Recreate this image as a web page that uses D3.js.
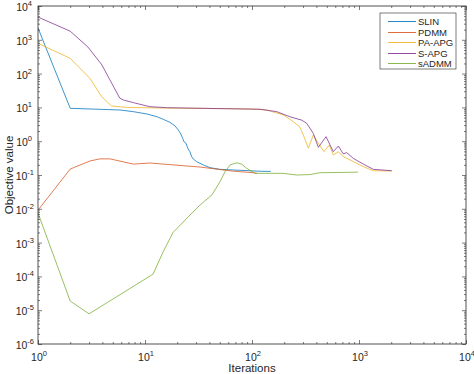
<!DOCTYPE html>
<html>
<head>
<meta charset="utf-8">
<script src="https://cdn.jsdelivr.net/npm/d3@7"></script>
<style>
  body { margin: 0; background: #fff; }
  text { font-family: "Liberation Sans", Arial, Helvetica, sans-serif; fill: #262626; }
</style>
</head>
<body>
<svg id="chart" width="474" height="374"></svg>
<script>
// iterations / objective values
const slinIter = [1, 2, 3.8, 5.84, 7.78, 10.4, 12.9, 14.8, 17.1, 19.1, 20.5, 21.6, 22.5, 23.1, 24.2, 24.9, 25.6, 26.3, 27.3, 28.3, 30.4, 35.1, 40.5, 50.2, 66.8, 119, 150];
const slinVal = [2240, 9.4, 8.77, 8.38, 7.48, 6.38, 5.32, 4.44, 3.61, 2.82, 2.14, 1.63, 1.22, 0.97, 0.865, 0.66, 0.55, 0.49, 0.348, 0.297, 0.248, 0.198, 0.165, 0.147, 0.141, 0.129, 0.128];

const pdmmIter = [1, 2, 3.06, 3.8, 4.7, 7.8, 11.1, 32.7, 66, 100, 111];
const pdmmVal = [0.0091, 0.15, 0.26, 0.3, 0.3, 0.21, 0.226, 0.172, 0.13, 0.118, 0.112];

const paapgIter = [1, 2, 3.06, 3.94, 4.88, 6.74, 13.8, 100, 137, 196, 243, 281, 306, 336, 374, 417, 471, 528, 575, 641, 713, 885, 1097, 1361, 2023];
const paapgVal = [787, 283, 72, 20.7, 11, 10, 9.6, 9.0, 8.4, 6.0, 3.8, 2.6, 1.36, 0.62, 1.52, 0.86, 0.49, 0.77, 0.39, 0.49, 0.35, 0.25, 0.176, 0.134, 0.131];

const sapgIter = [1, 2, 2.93, 3.96, 4.7, 5.8, 6.27, 7.8, 11.1, 15.9, 119, 170, 226, 291, 324, 374, 417, 492, 575, 641, 713, 767, 885, 1097, 1361, 2023];
const sapgVal = [4700, 1800, 610, 180, 65, 19, 16.6, 13.8, 10.5, 9.8, 8.8, 7.5, 5.3, 4.2, 3.4, 1.7, 0.66, 1.36, 0.49, 0.72, 0.42, 0.46, 0.31, 0.21, 0.147, 0.134];

const sadmmIter = [1, 2, 3, 11.9, 14.8, 18.3, 26.4, 32.7, 42.3, 50.2, 56, 62.3, 72, 80, 89, 107, 194, 262, 348, 432, 823, 980];
const sadmmVal = [0.0075, 1.86e-5, 7.8e-6, 1.17e-4, 5.4e-4, 0.002, 0.0066, 0.0129, 0.026, 0.063, 0.126, 0.198, 0.23, 0.21, 0.158, 0.112, 0.112, 0.1, 0.103, 0.117, 0.12, 0.122];

const seriesNames = ["SLIN", "PDMM", "PA-APG", "S-APG", "sADMM"];
const seriesColors = ["#0072BD", "#D95319", "#EDB120", "#7E2F8E", "#77AC30"];
const xTickExp = [0, 1, 2, 3, 4];
const yTickExp = [-6, -5, -4, -3, -2, -1, 0, 1, 2, 3, 4];

const series = [
  [slinIter, slinVal],
  [pdmmIter, pdmmVal],
  [paapgIter, paapgVal],
  [sapgIter, sapgVal],
  [sadmmIter, sadmmVal],
].map(([it, v], i) => ({
  name: seriesNames[i],
  color: seriesColors[i],
  points: it.map((d, j) => ({ x: d, y: v[j] })),
}));

const plot = { left: 38, right: 466, top: 6, bottom: 344 };
const svg = d3.select("#chart");

const x = d3.scaleLog().domain([1, 1e4]).range([plot.left, plot.right]);
const y = d3.scaleLog().domain([1e-6, 1e4]).range([plot.bottom, plot.top]);

svg.append("clipPath").attr("id", "clip")
  .append("rect")
  .attr("x", plot.left).attr("y", plot.top)
  .attr("width", plot.right - plot.left).attr("height", plot.bottom - plot.top);

// lines
const line = d3.line().x((d) => x(d.x)).y((d) => y(d.y));
svg.append("g").attr("clip-path", "url(#clip)")
  .selectAll("path.series")
  .data(series)
  .join("path")
  .attr("class", "series")
  .attr("d", (d) => line(d.points))
  .attr("fill", "none")
  .attr("stroke", (d) => d.color)
  .attr("stroke-width", 0.9)
  .attr("stroke-opacity", 0.85)
  .attr("stroke-linejoin", "round");

// ticks on all four sides, pointing inward
const xMajor = xTickExp.map((e) => Math.pow(10, e));
const yMajor = yTickExp.map((e) => Math.pow(10, e));
const xMinor = x.ticks(40).filter((v) => !xMajor.some((m) => Math.abs(m - v) < 1e-9 * m));
const yMinor = y.ticks(40).filter((v) => !yMajor.some((m) => Math.abs(m - v) < 1e-9 * m));

function tickAxis(axisFn, scale, values, size, pos) {
  const g = svg.append("g")
    .attr("transform", pos)
    .call(axisFn(scale).tickValues(values).tickSize(size).tickFormat(""));
  g.select(".domain").remove();
  g.selectAll(".tick line").attr("stroke", "#262626").attr("stroke-width", 0.6);
  return g;
}
tickAxis(d3.axisBottom, x, xMajor, -4, `translate(0,${plot.bottom})`);
tickAxis(d3.axisBottom, x, xMinor, -2, `translate(0,${plot.bottom})`);
tickAxis(d3.axisTop, x, xMajor, -4, `translate(0,${plot.top})`);
tickAxis(d3.axisTop, x, xMinor, -2, `translate(0,${plot.top})`);
tickAxis(d3.axisLeft, y, yMajor, -4, `translate(${plot.left},0)`);
tickAxis(d3.axisLeft, y, yMinor, -2, `translate(${plot.left},0)`);
tickAxis(d3.axisRight, y, yMajor, -4, `translate(${plot.right},0)`);
tickAxis(d3.axisRight, y, yMinor, -2, `translate(${plot.right},0)`);

svg.append("rect")
  .attr("x", plot.left).attr("y", plot.top)
  .attr("width", plot.right - plot.left).attr("height", plot.bottom - plot.top)
  .attr("fill", "none").attr("stroke", "#262626").attr("stroke-width", 0.8);

// tick labels 10^n
function powLabel(sel) {
  sel.append("tspan").text("10");
  sel.append("tspan").attr("dy", -5).attr("font-size", 7.5).text((d) => d);
}
svg.append("g").selectAll("text")
  .data(xTickExp)
  .join("text")
  .attr("x", (d) => x(Math.pow(10, d)) + 1)
  .attr("y", 361)
  .attr("text-anchor", "middle")
  .attr("font-size", 10.5)
  .call(powLabel);

svg.append("g").selectAll("text")
  .data(yTickExp)
  .join("text")
  .attr("x", (d) => (d < 0 ? 34 : 32))
  .attr("y", (d) => y(Math.pow(10, d)) + 5)
  .attr("text-anchor", "end")
  .attr("font-size", 10.5)
  .call(powLabel);

// axis titles
svg.append("text")
  .attr("x", (plot.left + plot.right) / 2)
  .attr("y", 372)
  .attr("text-anchor", "middle")
  .attr("font-size", 11.5)
  .text("Iterations");

svg.append("text")
  .attr("transform", `translate(13,${(plot.top + plot.bottom) / 2}) rotate(-90)`)
  .attr("text-anchor", "middle")
  .attr("font-size", 11.5)
  .text("Objective value");

// legend
const legend = svg.append("g");
legend.append("rect")
  .attr("x", 380).attr("y", 13).attr("width", 76).attr("height", 56)
  .attr("fill", "#fff").attr("stroke", "#262626").attr("stroke-width", 0.6);
const items = legend.selectAll("g.item")
  .data(series)
  .join("g")
  .attr("class", "item")
  .attr("transform", (d, i) => `translate(0,${Math.round(21 + i * 10.6) + 0.5})`);
items.append("line")
  .attr("x1", 388).attr("x2", 416)
  .attr("y1", 0).attr("y2", 0)
  .attr("stroke", (d) => d.color)
  .attr("stroke-opacity", 0.85)
  .attr("stroke-width", 1);
items.append("text")
  .attr("x", 418).attr("y", 3.5)
  .attr("font-size", 9.5)
  .text((d) => d.name);
</script>
</body>
</html>
